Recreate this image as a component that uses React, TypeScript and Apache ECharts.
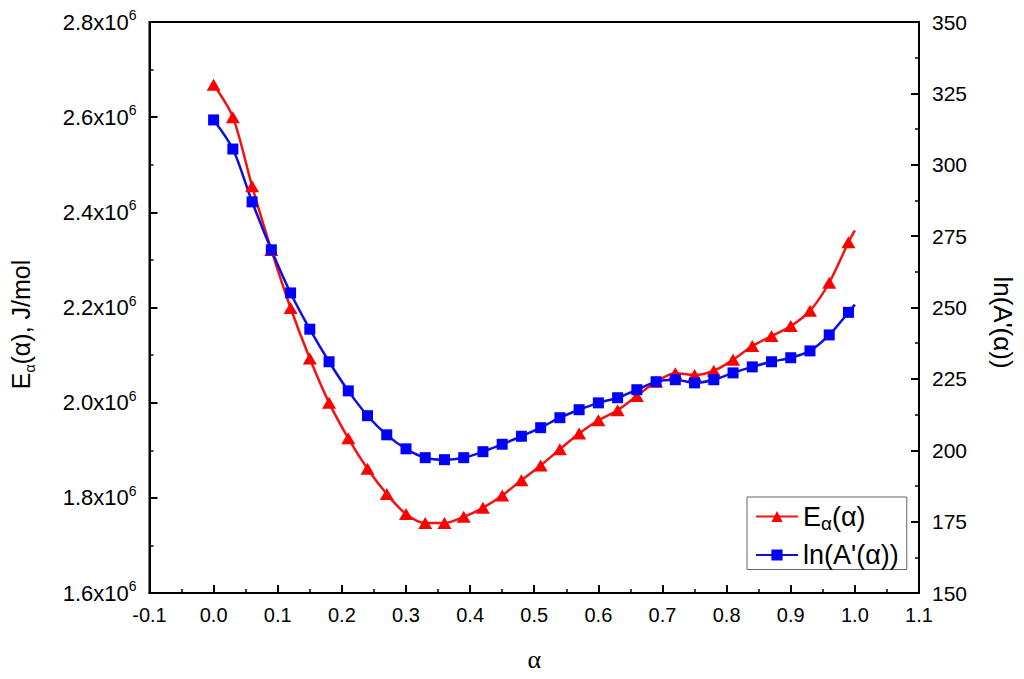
import React, { useEffect, useRef } from "react";
import * as echarts from "echarts";

// alpha (conversion) values; last entry is the curve end without a marker
const alphas = [
  0.0, 0.03, 0.06, 0.09, 0.12, 0.15, 0.18, 0.21, 0.24, 0.27, 0.3, 0.33, 0.36, 0.39, 0.42, 0.45, 0.48,
  0.51, 0.54, 0.57, 0.6, 0.63, 0.66, 0.69, 0.72, 0.75, 0.78, 0.81, 0.84, 0.87, 0.9, 0.93, 0.96, 0.99, 1.0,
];

// E_alpha(alpha), J/mol
const energies = [
  2.668e6, 2.6e6, 2.455e6, 2.321e6, 2.199e6, 2.093e6, 2.0e6, 1.925e6, 1.861e6, 1.808e6, 1.766e6,
  1.747e6, 1.747e6, 1.76e6, 1.779e6, 1.805e6, 1.837e6, 1.868e6, 1.902e6, 1.935e6, 1.963e6, 1.984e6,
  2.014e6, 2.044e6, 2.062e6, 2.058e6, 2.067e6, 2.09e6, 2.119e6, 2.14e6, 2.161e6, 2.193e6, 2.252e6,
  2.337e6, 2.362e6,
];

// ln(A'(alpha))
const lnA = [
  315.7, 305.5, 287.0, 270.2, 255.1, 242.4, 231.0, 220.8, 212.1, 205.4, 200.5, 197.4, 196.7, 197.4,
  199.5, 202.1, 204.9, 207.9, 211.4, 214.2, 216.6, 218.4, 221.2, 224.0, 224.7, 223.6, 224.7, 227.1,
  229.2, 231.0, 232.4, 234.8, 240.4, 248.3, 251.0,
];

const seriesNames = ["E", "lnA"];

const FONT = "Liberation Sans, Arial, sans-serif";

function buildData(ys: number[]) {
  return alphas.map((a, i) =>
    i === alphas.length - 1 ? { value: [a, ys[i]], symbol: "none" } : { value: [a, ys[i]] }
  );
}

export default function App() {
  const ref = useRef<HTMLDivElement>(null);

  useEffect(() => {
    if (!ref.current) return;
    const chart = echarts.init(ref.current, undefined, { renderer: "svg" });
    const axisLine = { show: true, onZero: false, lineStyle: { color: "#000", width: 2 } };
    const tick = { show: true, inside: true, length: 8, lineStyle: { color: "#000", width: 2 } };
    const minor = { show: true, splitNumber: 2, length: 4, lineStyle: { color: "#000", width: 1.5 } };

    chart.setOption({
      animation: false,
      backgroundColor: "#fff",
      grid: {
        left: 148,
        right: 105,
        top: 22,
        bottom: 86,
        show: true,
        borderColor: "#000",
        borderWidth: 2,
      },
      legend: {
        orient: "vertical",
        left: 747,
        top: 497,
        data: seriesNames,
        borderColor: "#666",
        borderWidth: 1,
        padding: [6, 8, 1, 8],
        itemGap: 9,
        itemWidth: 42,
        itemHeight: 14,
        formatter: (name: string) =>
          name === "E" ? "{n|E}{s|α}{n|(α)}" : "{n|ln(A'(α))}",
        textStyle: {
          fontFamily: FONT,
          fontSize: 27,
          color: "#000",
          rich: {
            n: { fontSize: 27, lineHeight: 32, fontFamily: FONT, color: "#000" },
            s: { fontSize: 19, lineHeight: 18, verticalAlign: "bottom", fontFamily: FONT, color: "#000" },
          },
        },
      },
      xAxis: {
        type: "value",
        min: -0.1,
        max: 1.1,
        interval: 0.1,
        name: "α",
        nameLocation: "middle",
        nameGap: 53,
        nameTextStyle: { fontFamily: "Liberation Serif, serif", fontSize: 26, color: "#000" },
        axisLine,
        axisTick: tick,
        minorTick: minor,
        splitLine: { show: false },
        axisLabel: {
          fontFamily: FONT,
          fontSize: 20,
          color: "#000",
          margin: 12,
          formatter: (v: number) => v.toFixed(1),
        },
      },
      yAxis: [
        {
          type: "value",
          position: "left",
          min: 1.6e6,
          max: 2.8e6,
          interval: 0.2e6,
          name: "{n|E}{s|α}{n|(α), J/mol}",
          nameLocation: "middle",
          nameGap: 113,
          nameTextStyle: {
            fontFamily: FONT,
            color: "#000",
            padding: [0, 34, 0, 0],
            rich: {
              n: { fontSize: 25, lineHeight: 32, fontFamily: FONT, color: "#000" },
              s: { fontSize: 14, lineHeight: 14, verticalAlign: "bottom", fontFamily: FONT, color: "#000" },
            },
          },
          axisLine,
          axisTick: tick,
          minorTick: minor,
          splitLine: { show: false },
          axisLabel: {
            margin: 13,
            color: "#000",
            formatter: (v: number) => `{n|${(v / 1e6).toFixed(1)}x10}{sup|6}`,
            rich: {
              n: { fontSize: 22, lineHeight: 28, fontFamily: FONT, color: "#000" },
              sup: { fontSize: 14, lineHeight: 14, verticalAlign: "top", fontFamily: FONT, color: "#000" },
            },
          },
        },
        {
          type: "value",
          position: "right",
          min: 150,
          max: 350,
          interval: 25,
          name: "ln(A'(α))",
          nameLocation: "middle",
          nameRotate: -90,
          nameGap: 71,
          nameTextStyle: { fontFamily: FONT, fontSize: 26, color: "#000", padding: [0, 0, 0, 30] },
          axisLine,
          axisTick: tick,
          minorTick: minor,
          splitLine: { show: false },
          axisLabel: { fontFamily: FONT, fontSize: 21, color: "#000", margin: 13 },
        },
      ],
      series: [
        {
          name: seriesNames[0],
          type: "line",
          yAxisIndex: 0,
          smooth: 0.3,
          data: buildData(energies),
          symbol: "triangle",
          symbolSize: [14, 12],
          lineStyle: { color: "#f01414", width: 2.5 },
          itemStyle: { color: "#ff0000" },
        },
        {
          name: seriesNames[1],
          type: "line",
          yAxisIndex: 1,
          smooth: 0.3,
          data: buildData(lnA),
          symbol: "rect",
          symbolSize: 11,
          lineStyle: { color: "#1010dc", width: 2.5 },
          itemStyle: { color: "#0000ff" },
        },
      ],
    });
    return () => chart.dispose();
  }, []);

  return (
    <div
      ref={ref}
      style={{ position: "absolute", left: 0, top: 0, width: 1024, height: 679, background: "#fff" }}
    />
  );
}
